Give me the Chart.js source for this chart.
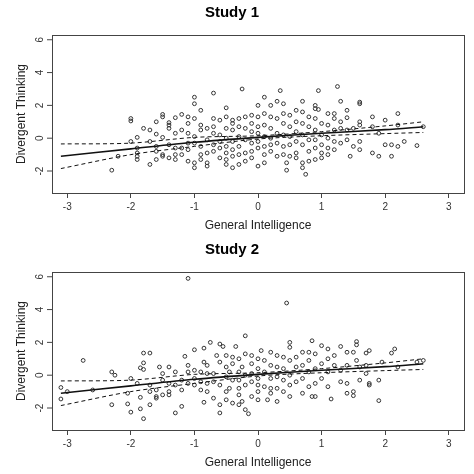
<!DOCTYPE html>
<html>
<head>
<meta charset="utf-8">
<script src="https://cdn.jsdelivr.net/npm/chart.js@4"></script>
<style>
  body { margin: 0; background: #fff; }
  .panel { width: 474px; height: 237px; position: relative; }
</style>
</head>
<body>
<div class="panel"><canvas id="study1"></canvas></div>
<div class="panel"><canvas id="study2"></canvas></div>
<script>
// ---------- DATA ----------
const xTicks = [-3, -2, -1, 0, 1, 2, 3];
const yTicks = [-2, 0, 2, 4, 6];

// fit line and confidence band (same in both studies)
const fitX     = [-3.1, -2, -1, 0, 1, 2, 2.6];
const fitMid   = [-1.1, -0.65, -0.25, 0.05, 0.3, 0.52, 0.7];
const fitUpper = [-0.35, -0.3, 0.05, 0.15, 0.4, 0.75, 1.0];
const fitLower = [-1.85, -1.0, -0.5, -0.05, 0.15, 0.28, 0.35];

const study1 = [
  [-2.3,-1.95],[-2.2,-1.1],[-2.0,1.2],[-2.0,1.05],[-2.0,-0.2],[-1.9,0.05],[-1.9,-0.6],[-1.9,-0.9],[-1.9,-1.1],[-1.9,-1.3],
  [-1.8,0.6],[-1.7,0.5],[-1.7,-0.2],[-1.7,-1.6],[-1.6,1.0],[-1.6,0.25],[-1.6,-0.5],[-1.6,-0.8],[-1.6,-1.3],[-1.5,1.45],
  [-1.5,1.3],[-1.5,0.05],[-1.5,-1.0],[-1.5,-1.1],[-1.4,0.95],[-1.4,0.8],[-1.4,0.6],[-1.4,-0.4],[-1.4,-1.2],[-1.3,1.25],
  [-1.3,0.3],[-1.3,-0.6],[-1.3,-1.0],[-1.3,-1.3],[-1.2,1.45],[-1.2,0.5],[-1.2,-0.6],[-1.2,-1.0],[-1.1,1.3],[-1.1,0.9],
  [-1.1,0.3],[-1.1,-0.3],[-1.1,-0.7],[-1.1,-1.4],[-1.0,2.5],[-1.0,2.1],[-1.0,1.2],[-1.0,0.1],[-1.0,-0.3],[-1.0,-1.5],
  [-1.0,-1.8],[-0.9,1.7],[-0.9,0.8],[-0.9,0.5],[-0.9,-0.5],[-0.9,-1.0],[-0.9,-1.3],[-0.8,0.6],[-0.8,-0.1],[-0.8,-0.9],
  [-0.8,-1.5],[-0.8,-1.7],[-0.7,2.75],[-0.7,1.2],[-0.7,0.7],[-0.7,0.3],[-0.7,-0.4],[-0.7,-0.8],[-0.6,1.1],[-0.6,0.2],
  [-0.6,-0.2],[-0.6,-0.6],[-0.6,-1.2],[-0.5,1.85],[-0.5,1.3],[-0.5,0.6],[-0.5,0.0],[-0.5,-0.5],[-0.5,-0.9],[-0.5,-1.3],
  [-0.5,-1.6],[-0.4,1.1],[-0.4,0.9],[-0.4,0.5],[-0.4,-0.2],[-0.4,-0.7],[-0.4,-1.1],[-0.4,-1.8],[-0.3,1.2],[-0.3,0.7],
  [-0.3,0.1],[-0.3,-0.5],[-0.3,-1.0],[-0.3,-1.6],[-0.2,1.3],[-0.2,0.6],[-0.2,-0.1],[-0.2,-0.9],[-0.2,-1.4],[-0.25,3.0],
  [-0.1,1.4],[-0.1,0.9],[-0.1,0.4],[-0.1,-0.3],[-0.1,-0.8],[-0.1,-1.2],[0.0,2.0],[0.0,1.3],[0.0,0.7],[0.0,0.3],
  [0.0,-0.2],[0.0,-0.6],[0.0,-1.7],[0.1,2.5],[0.1,1.5],[0.1,0.8],[0.1,0.1],[0.1,-0.5],[0.1,-1.0],[0.1,-1.5],
  [0.2,2.0],[0.2,1.3],[0.2,0.6],[0.2,0.0],[0.2,-0.4],[0.2,-0.8],[0.3,2.25],[0.3,1.2],[0.3,0.3],[0.3,-0.3],
  [0.3,-1.1],[0.35,2.9],[0.4,2.1],[0.4,1.5],[0.4,0.9],[0.4,0.2],[0.4,-0.5],[0.4,-1.0],[0.45,-1.5],[0.45,-1.95],
  [0.5,1.4],[0.5,0.7],[0.5,0.1],[0.5,-0.4],[0.5,-1.1],[0.6,1.7],[0.6,1.0],[0.6,0.4],[0.6,-0.2],[0.6,-0.9],
  [0.6,-1.2],[0.7,2.25],[0.7,1.6],[0.7,0.9],[0.7,0.2],[0.7,-0.4],[0.7,-1.5],[0.7,-1.8],[0.8,1.3],[0.8,0.7],
  [0.8,-0.1],[0.8,-0.8],[0.8,-1.4],[0.75,-2.2],[0.9,2.0],[0.9,1.8],[0.9,1.2],[0.9,0.5],[0.9,-0.1],[0.9,-0.6],
  [0.9,-1.3],[0.95,2.9],[0.95,1.75],[1.0,0.9],[1.0,0.2],[1.0,-0.4],[1.0,-0.9],[1.0,-1.2],[1.1,1.5],[1.1,0.8],
  [1.1,0.0],[1.1,-0.6],[1.1,-1.0],[1.2,1.5],[1.2,1.2],[1.2,0.5],[1.2,-0.2],[1.2,-0.7],[1.25,3.15],[1.3,2.25],
  [1.3,1.0],[1.3,0.6],[1.3,-0.3],[1.4,1.7],[1.4,1.25],[1.4,0.5],[1.4,-0.1],[1.45,-1.1],[1.5,0.6],[1.5,-0.5],
  [1.6,2.2],[1.6,2.1],[1.6,1.0],[1.6,0.8],[1.6,-0.2],[1.6,-0.7],[1.8,1.3],[1.8,0.7],[1.8,-0.9],[1.9,0.3],
  [1.9,-1.1],[2.0,1.1],[2.0,-0.4],[2.1,-0.4],[2.1,-1.1],[2.2,1.5],[2.2,0.8],[2.2,-0.5],[2.3,-0.2],[2.5,-0.45],
  [2.6,0.7]
];

const study2 = [
  [-3.1,-0.75],[-3.1,-1.45],[-3.0,-1.0],[-2.75,0.9],[-2.6,-0.9],[-2.3,0.2],[-2.3,-1.8],[-2.25,0.0],[-2.05,-1.1],[-2.05,-1.75],
  [-2.0,-0.2],[-2.0,-2.25],[-1.9,-0.5],[-1.85,0.45],[-1.8,1.35],[-1.8,0.75],[-1.8,0.35],[-1.85,-1.35],[-1.85,-2.05],[-1.8,-2.65],
  [-1.7,1.35],[-1.7,-0.6],[-1.7,-1.0],[-1.7,-1.8],[-1.6,-0.9],[-1.6,-1.3],[-1.6,-1.4],[-1.55,0.5],[-1.5,0.1],[-1.5,-0.3],
  [-1.5,-1.2],[-1.4,0.5],[-1.4,-0.5],[-1.4,-1.0],[-1.4,-1.2],[-1.3,0.2],[-1.3,-0.6],[-1.3,-2.3],[-1.2,-0.3],[-1.2,-0.9],
  [-1.2,-1.9],[-1.15,1.15],[-1.1,5.9],[-1.1,0.6],[-1.1,0.2],[-1.1,-0.5],[-1.0,1.55],[-1.0,0.3],[-1.0,-0.2],[-1.0,-0.6],
  [-0.9,0.2],[-0.9,-0.4],[-0.9,-0.9],[-0.85,1.65],[-0.85,0.8],[-0.85,-1.65],[-0.8,0.6],[-0.8,0.1],[-0.8,-0.5],[-0.8,-1.0],
  [-0.75,2.0],[-0.7,0.1],[-0.7,-0.4],[-0.7,-1.4],[-0.65,1.2],[-0.6,1.9],[-0.6,0.8],[-0.6,-0.6],[-0.6,-1.8],[-0.6,-2.3],
  [-0.55,1.75],[-0.5,1.2],[-0.5,0.5],[-0.5,-0.1],[-0.5,-1.0],[-0.5,-1.5],[-0.45,0.2],[-0.45,-0.8],[-0.4,1.1],[-0.4,0.7],
  [-0.4,-0.3],[-0.4,-1.7],[-0.35,1.75],[-0.3,1.0],[-0.3,0.2],[-0.3,-0.3],[-0.3,-0.8],[-0.3,-1.2],[-0.3,-1.8],[-0.25,0.5],
  [-0.25,-1.6],[-0.2,2.4],[-0.2,1.3],[-0.2,0.0],[-0.2,-0.6],[-0.2,-2.1],[-0.15,-2.35],[-0.1,1.2],[-0.1,0.7],[-0.1,0.1],
  [-0.1,-0.4],[-0.1,-1.3],[0.0,1.0],[0.0,0.4],[0.0,-0.2],[0.0,-0.6],[0.0,-1.0],[0.0,-1.5],[0.05,1.5],[0.1,0.9],
  [0.1,0.2],[0.1,-0.7],[0.15,-1.5],[0.2,1.4],[0.2,0.6],[0.2,-0.2],[0.2,-0.8],[0.2,-1.1],[0.3,1.2],[0.3,0.5],
  [0.3,-0.1],[0.3,-0.8],[0.3,-1.6],[0.4,1.1],[0.4,0.4],[0.4,-0.3],[0.4,-1.0],[0.45,4.4],[0.5,2.0],[0.5,1.7],
  [0.5,0.9],[0.5,0.0],[0.5,-0.6],[0.5,-1.3],[0.6,1.1],[0.6,0.5],[0.6,-0.4],[0.7,1.4],[0.7,0.6],[0.7,-0.2],
  [0.7,-1.1],[0.8,1.4],[0.8,0.9],[0.8,0.2],[0.8,-0.7],[0.85,2.1],[0.85,-1.3],[0.9,1.3],[0.9,0.4],[0.9,-0.5],
  [0.9,-1.3],[1.0,1.8],[1.0,0.7],[1.0,-0.2],[1.1,1.6],[1.1,1.0],[1.1,0.2],[1.1,-0.7],[1.15,-1.45],[1.2,1.2],
  [1.2,0.6],[1.3,1.75],[1.3,0.3],[1.3,-0.4],[1.4,1.4],[1.4,0.6],[1.4,-0.5],[1.4,-1.1],[1.5,1.4],[1.5,-1.0],
  [1.5,-1.25],[1.55,2.05],[1.55,1.85],[1.55,0.9],[1.6,0.5],[1.6,-0.3],[1.7,1.35],[1.7,0.6],[1.7,0.1],[1.75,1.5],
  [1.75,-0.5],[1.75,-0.6],[1.9,-0.3],[1.9,-1.55],[1.95,0.8],[2.1,1.35],[2.15,1.6],[2.2,0.5],[2.5,0.8],[2.6,0.9]
];

// ---------- DRAWING ----------
const FONT = "'Liberation Sans', Arial, sans-serif";

// R-style box around the plot area plus rotated y tick labels
const rStyle = {
    id: 'rStyle',
    afterDraw(chart) {
        const { ctx, chartArea: a, scales } = chart;
        ctx.save();
        ctx.strokeStyle = '#444';
        ctx.lineWidth = 1;
        ctx.strokeRect(a.left + 0.5, a.top + 0.5, a.right - a.left, a.bottom - a.top);
        ctx.fillStyle = '#333';
        ctx.font = '10px ' + FONT;
        ctx.textAlign = 'center';
        ctx.textBaseline = 'middle';
        yTicks.forEach(v => {
            const y = scales.y.getPixelForValue(v);
            ctx.beginPath();
            ctx.moveTo(a.left, y);
            ctx.lineTo(a.left - 5, y);
            ctx.stroke();
            ctx.save();
            ctx.translate(a.left - 12, y);
            ctx.rotate(-Math.PI / 2);
            ctx.fillText(String(v), 0, 0);
            ctx.restore();
        });
        ctx.restore();
    }
};

function lineSet(ys, dash, width) {
    return {
        type: 'line',
        data: fitX.map((x, i) => ({ x: x, y: ys[i] })),
        borderColor: '#111',
        borderWidth: width,
        borderDash: dash,
        pointRadius: 0,
        tension: 0.3,
        fill: false
    };
}

function makeChart(id, title, points) {
    const ctx = document.getElementById(id).getContext('2d');
    return new Chart(ctx, {
        type: 'scatter',
        data: {
            datasets: [
                lineSet(fitMid, [], 1.6),
                lineSet(fitUpper, [4, 3], 1),
                lineSet(fitLower, [4, 3], 1),
                {
                    data: points.map(p => ({ x: p[0], y: p[1] })),
                    pointRadius: 1.9,
                    borderWidth: 1,
                    borderColor: '#333',
                    backgroundColor: 'rgba(255,255,255,0)'
                }
            ]
        },
        options: {
            responsive: true,
            maintainAspectRatio: false,
            animation: false,
            layout: { padding: { right: 10, top: 0 } },
            plugins: {
                legend: { display: false },
                tooltip: { enabled: false },
                title: {
                    display: true,
                    text: title,
                    color: '#000',
                    font: { family: FONT, size: 15, weight: 'bold' },
                    padding: { top: 4, bottom: 13 }
                }
            },
            scales: {
                x: {
                    type: 'linear',
                    min: -3.24,
                    max: 3.24,
                    afterBuildTicks: s => { s.ticks = xTicks.map(v => ({ value: v })); },
                    grid: { display: true, drawOnChartArea: false, tickLength: 5, color: '#444' },
                    border: { display: false },
                    ticks: { color: '#333', font: { family: FONT, size: 10 }, padding: 3 },
                    title: {
                        display: true,
                        text: 'General Intelligence',
                        color: '#222',
                        font: { family: FONT, size: 12 },
                        padding: { top: 4 }
                    },
                    afterFit: s => { s.height = 44; }
                },
                y: {
                    type: 'linear',
                    min: -3.34,
                    max: 6.29,
                    afterBuildTicks: s => { s.ticks = yTicks.map(v => ({ value: v })); },
                    grid: { display: false },
                    border: { display: false },
                    ticks: { display: false },
                    title: {
                        display: true,
                        text: 'Divergent Thinking',
                        color: '#222',
                        font: { family: FONT, size: 12 },
                        padding: { top: 14, bottom: 0 }
                    },
                    afterFit: s => { s.width = 52; }
                }
            }
        },
        plugins: [rStyle]
    });
}

makeChart('study1', 'Study 1', study1);
makeChart('study2', 'Study 2', study2);
</script>
</body>
</html>
